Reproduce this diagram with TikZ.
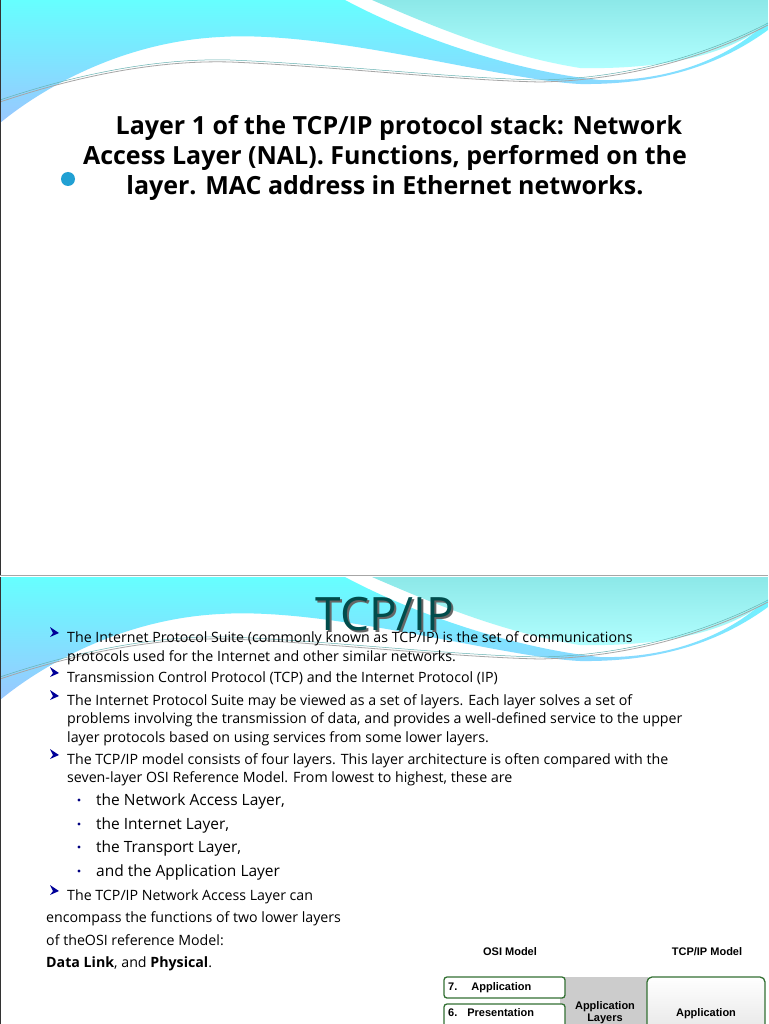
\documentclass[tikz,border=0pt]{standalone}
\usepackage{fontspec}
\setmainfont{Open Sans}
\newfontfamily\arial{Liberation Sans}
\begin{document}
\begin{tikzpicture}[x=1pt,y=-1pt,
  body/.style={anchor=base west,inner sep=0pt,font=\fontsize{14.2}{17}\selectfont},
  sub/.style={anchor=base west,inner sep=0pt,font=\fontsize{15.5}{18}\selectfont},
  tab/.style={inner sep=0pt,font=\arial\bfseries\fontsize{11}{12}\selectfont},
  osibox/.style={draw=green!30!black!80,line width=1.3pt,rounded corners=3pt,fill=white},
  arrowb/.style={fill=blue!60!black},
  wave/.pic={
    \shade[left color=cyan!60!white,right color=cyan!45!blue!40!white,shading angle=0]
      (0,0) -- (345,0) .. controls (420,40) and (520,72) .. (600,80)
      .. controls (680,82) and (740,50) .. (768,20) -- (768,30)
      .. controls (720,65) and (660,85) .. (580,84)
      .. controls (500,80) and (330,30) .. (220,37)
      .. controls (120,42) and (40,90) .. (0,123) -- cycle;
    \shade[top color=teal!40!cyan!45!white,bottom color=cyan!30!white]
      (372,0) -- (768,0) -- (768,22) .. controls (740,48) and (680,70) .. (580,68)
      .. controls (500,55) and (430,25) .. (372,0) -- cycle;
    \draw[gray!70,line width=0.8pt] (0,102) .. controls (80,75) and (160,60) .. (230,62)
      .. controls (330,66) and (450,80) .. (540,82) .. controls (640,80) and (720,50) .. (768,25);
    \draw[teal!60,line width=0.5pt] (0,100) .. controls (80,73) and (160,58) .. (230,60)
      .. controls (330,64) and (450,78) .. (540,80) .. controls (640,78) and (720,48) .. (768,23);
  }]
\useasboundingbox (0,0) rectangle (768,1024);
\fill[white] (0,0) rectangle (768,1024);
% slide 1
\pic at (0,0) {wave};
\draw[gray!70,line width=0.8pt] (0.5,0) -- (0.5,575) -- (768,575);
\draw[black!80,line width=0.8pt] (0.5,0) -- (0.5,575);
\fill[cyan!70!teal] (68,179) circle (7);
\node[anchor=base,inner sep=0pt,align=center,font=\bfseries\fontsize{25}{30}\selectfont,text=black] (t1) at (385,195)
 {\hspace*{28pt}Layer 1 of the TCP/IP protocol stack: Network\\Access Layer (NAL). Functions, performed on the\\layer. MAC address in Ethernet networks.};
% slide 2
\pic at (0,577) {wave};
\draw[black!80,line width=0.8pt] (0.5,577) -- (0.5,1024);
\node[anchor=base,inner sep=0pt,font=\fontsize{46}{50}\selectfont,text=black!60] (t2s) at (387,632) {TCP/IP};
\node[anchor=base,inner sep=0pt,font=\fontsize{46}{50}\selectfont,text=teal!60!black] (t2) at (385,630) {TCP/IP};
\foreach \y in {637,677,700,759,895}{
  \fill[arrowb] (50,\y-10) -- (59,\y-4) -- (50,\y) -- (53,\y-4) -- cycle;}
\node[body] (p1) at (67,642) {The Internet Protocol Suite (commonly known as TCP/IP) is the set of communications};
\node[body] (p1b) at (67,661) {protocols used for the Internet and other similar networks.};
\node[body] (p2) at (67,682) {Transmission Control Protocol (TCP) and the Internet Protocol (IP)};
\node[body] (p3) at (67,705) {The Internet Protocol Suite may be viewed as a set of layers. Each layer solves a set of};
\node[body] (p3b) at (67,723) {problems involving the transmission of data, and provides a well-defined service to the upper};
\node[body] (p3c) at (67,742) {layer protocols based on using services from some lower layers.};
\node[body] (p4) at (67,764) {The TCP/IP model consists of four layers. This layer architecture is often compared with the};
\node[body] (p4b) at (67,782) {seven-layer OSI Reference Model. From lowest to highest, these are};
\foreach \t/\y [count=\i] in {{the Network Access Layer,}/805, {the Internet Layer,}/829, {the Transport Layer,}/852, {and the Application Layer}/876}{
  \fill[blue!50!black] (79,\y-5) circle (1.6);
  \node[sub] (s\i) at (96,\y) {\t};}
\node[body] (p5) at (67,900) {The TCP/IP Network Access Layer can};
\node[body] (p5b) at (46,922) {encompass the functions of two lower layers};
\node[body] (p5c) at (46,945) {of theOSI reference Model:};
\node[body] (p5d) at (46,967) {\textbf{Data Link}, and \textbf{Physical}.};
% table
\node[tab] (osi) at (510,952) {OSI Model};
\node[tab] (tcp) at (707,952) {TCP/IP Model};
\fill[gray!40] (560,977) rectangle (648,1024);
\node[tab,align=center] (al) at (605,1013) {Application\\Layers};
\draw[osibox] (444,977) rectangle (565,998);
\draw[osibox] (444,1004) rectangle (565,1030);
\node[tab,anchor=west] (a7) at (448,988) {7.\hspace{14pt}Application};
\node[tab,anchor=west] (a6) at (448,1013) {6.\hspace{10pt}Presentation};
\shade[top color=white,bottom color=gray!20,draw=green!30!black!80,line width=1.3pt,rounded corners=5pt] (647,977) rectangle (765,1035);
\node[tab] (ta) at (706,1014) {Application};
\end{tikzpicture}
\end{document}
